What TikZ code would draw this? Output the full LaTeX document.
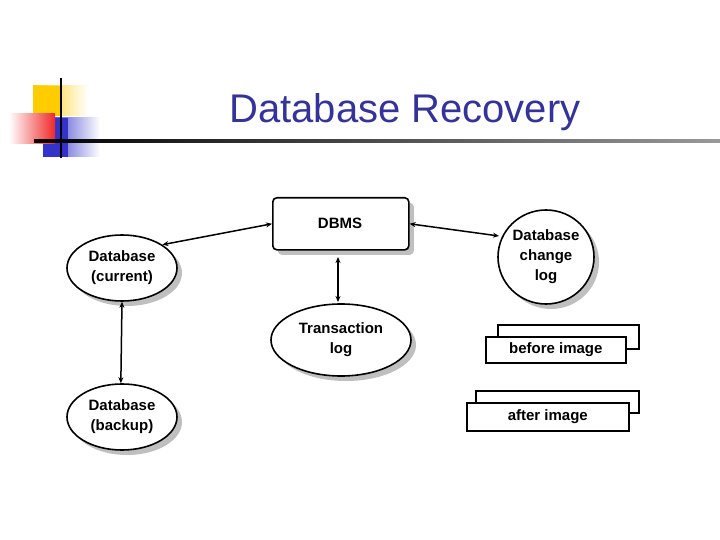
\documentclass[tikz,border=0pt]{standalone}
\usepackage{fontspec}
\setmainfont{Liberation Sans}
\usetikzlibrary{shapes.geometric,arrows.meta,shadows}
\definecolor{ttl}{RGB}{51,51,153}
\definecolor{lgy}{RGB}{255,204,0}
\definecolor{lgr}{RGB}{240,40,40}
\definecolor{lgb}{RGB}{51,51,204}
\begin{document}
\begin{tikzpicture}[x=1pt,y=-1pt,
  shd/.style={drop shadow={shadow xshift=5pt,shadow yshift=-5pt,fill=black!25,opacity=1}},
  ell/.style={ellipse,draw,line width=1.6pt,fill=white,shd,font=\bfseries\fontsize{15}{20}\selectfont,align=center,inner sep=0pt},
  box/.style={draw,line width=1.6pt,fill=white,font=\bfseries\fontsize{15}{18}\selectfont,inner sep=0pt,text height=11pt,text depth=3pt},
  con/.style={line width=1.5pt,{Stealth[length=6pt,width=5pt]}-{Stealth[length=6pt,width=5pt]}}]
\useasboundingbox (0,0) rectangle (720,540);
% logo
\shade[left color=lgy,right color=white] (33,86) rectangle (88,116);
\fill[lgy] (33,86) rectangle (62,116);
\shade[left color=lgb,right color=white] (43,118) rectangle (100,157);
\fill[lgb] (43,118) rectangle (68,157);
\shade[left color=white,right color=lgr] (9,114) rectangle (55,144);
\draw[line width=1.3pt] (61,78) -- (61,158);
\shade[left color=black,right color=black!40] (34,140) rectangle (720,142.5);
\node[text=ttl,font=\fontsize{40}{44}\selectfont] (title) at (405,112) {Database Recovery};
% nodes
\node[box,rounded corners=4pt,minimum width=136pt,minimum height=52pt,shd,anchor=north west] (dbms) at (272,197) {};
\node[font=\bfseries\fontsize{15}{18}\selectfont] (dbmst) at (340,223) {DBMS};
\node[ell,minimum width=110pt,minimum height=66pt] (cur) at (122,268) {Database\\(current)};
\node[ell,minimum width=96pt,minimum height=94pt] (chg) at (546,257) {Database\\change\\log};
\node[ell,minimum width=140pt,minimum height=72pt] (tr) at (341,340) {Transaction\\log};
\node[ell,minimum width=110pt,minimum height=66pt] (bak) at (122,417) {Database\\(backup)};
\node[box,minimum width=141pt,minimum height=24pt,anchor=north west] (bib) at (497,324) {};
\node[box,minimum width=140pt,minimum height=26pt,anchor=north west] (bi) at (485,336) {before image};
\node[box,minimum width=163pt,minimum height=22pt,anchor=north west] (aib) at (475,390) {};
\node[box,minimum width=162pt,minimum height=28pt,anchor=north west] (ai) at (466,402) {after image};
\coordinate (tt) at (338,302);
\coordinate (db) at (338,257);
\coordinate (ce) at (499,236);
% connectors
\draw[con] (dbms.west) -- (cur.30);
\draw[con] (dbms.east) -- (ce);
\draw[con] (db) -- (tt);
\draw[con] (cur.south) -- (bak.92);
\end{tikzpicture}
\end{document}
